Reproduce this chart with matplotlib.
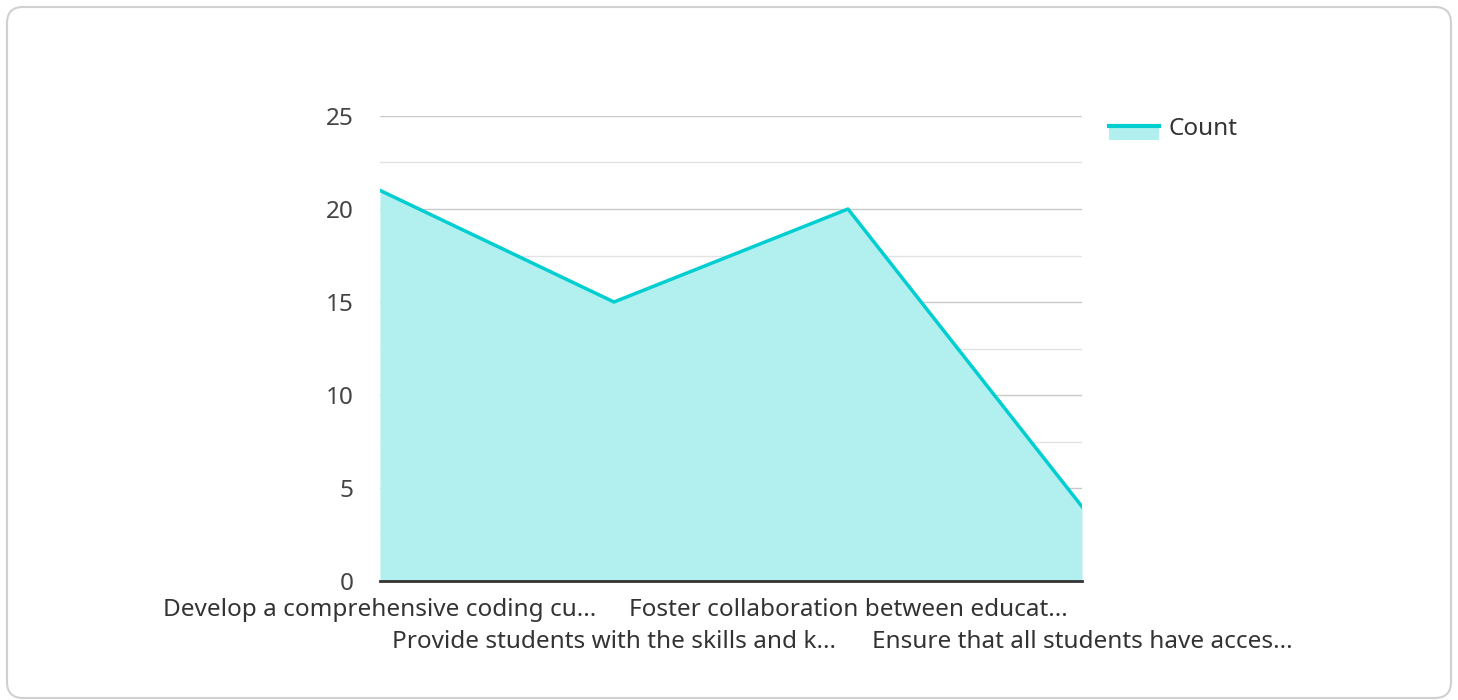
import matplotlib.pyplot as plt
from matplotlib.patches import FancyBboxPatch, Rectangle
from matplotlib.lines import Line2D
from matplotlib.legend_handler import HandlerBase

plt.rcParams['font.family'] = ['Noto Sans', 'DejaVu Sans']

# Données
categories = [
    'Develop a comprehensive coding cu...',
    'Provide students with the skills and k...',
    'Foster collaboration between educat...',
    'Ensure that all students have acces...',
]
counts = [21, 15, 20, 4]
series_name = 'Count'

line_color = '#00CED1'
fill_color = '#B2F0F0'
text_color = '#333333'
fs = 17.5


class AreaHandler(HandlerBase):
    # carré de légende : aplat clair avec un trait en haut
    def create_artists(self, legend, orig_handle, xdescent, ydescent,
                       width, height, fontsize, trans):
        rect = Rectangle((-xdescent, -ydescent - height * 0.3), width, height * 0.85,
                         facecolor=fill_color, edgecolor='none', transform=trans)
        top = -ydescent - height * 0.3 + height * 0.85
        ln = Line2D([-xdescent, -xdescent + width], [top, top],
                    color=line_color, lw=3, transform=trans)
        return [rect, ln]


fig = plt.figure(figsize=(14.58, 7.0), dpi=100)
fig.patch.set_facecolor('white')

# Cadre arrondi
W, H = 1458, 700
card = FancyBboxPatch((7 / W, 2 / H), 1444 / W, 691 / H,
                      boxstyle='round,pad=0,rounding_size=0.011',
                      transform=fig.transFigure, facecolor='white',
                      edgecolor='#d0d0d0', lw=1.5, mutation_aspect=W / H, zorder=-5)
fig.add_artist(card)

ax = fig.add_axes([380 / W, 1 - 581 / H, 702 / W, 465 / H])
ax.set_zorder(2)
ax.set_facecolor('none')

x = list(range(len(categories)))
ax.fill_between(x, counts, 0, color=fill_color, lw=0, zorder=2)
ax.plot(x, counts, color=line_color, lw=2.5, zorder=3, label=series_name)

ax.set_xlim(0, len(categories) - 1)
ax.set_ylim(0, 25)
ax.set_yticks([0, 5, 10, 15, 20, 25])
ax.set_yticks([2.5, 7.5, 12.5, 17.5, 22.5], minor=True)
ax.grid(True, which='major', axis='y', color='#bdbdbd', lw=1, zorder=4, alpha=0.8)
ax.grid(True, which='minor', axis='y', color='#dddddd', lw=1, zorder=4, alpha=0.8)
ax.tick_params(axis='y', which='both', length=0, pad=19, labelsize=fs,
               labelcolor='#444444')
ax.tick_params(axis='x', length=0)
ax.set_xticks([])

for s in ['top', 'right', 'left']:
    ax.spines[s].set_visible(False)
ax.spines['bottom'].set_color('#333333')
ax.spines['bottom'].set_linewidth(2)
ax.spines['bottom'].set_zorder(5)

# Étiquettes en quinconce
for i, lab in enumerate(categories):
    off = -29 if i % 2 == 0 else -61
    ax.annotate(lab, xy=(i, 0), xycoords=('data', 'axes fraction'),
                xytext=(0, off * 0.72), textcoords='offset points',
                ha='center', va='center', fontsize=fs, color=text_color,
                annotation_clip=False)

handle = Rectangle((0, 0), 1, 1)
leg = fig.legend([handle], [series_name], handler_map={Rectangle: AreaHandler()},
                 loc='center left', bbox_to_anchor=(1087 / W, 1 - 129 / H),
                 frameon=False, fontsize=fs, handlelength=2.06, handletextpad=0.41,
                 labelcolor=text_color)

fig.savefig('out.png', dpi=100, facecolor='white')
